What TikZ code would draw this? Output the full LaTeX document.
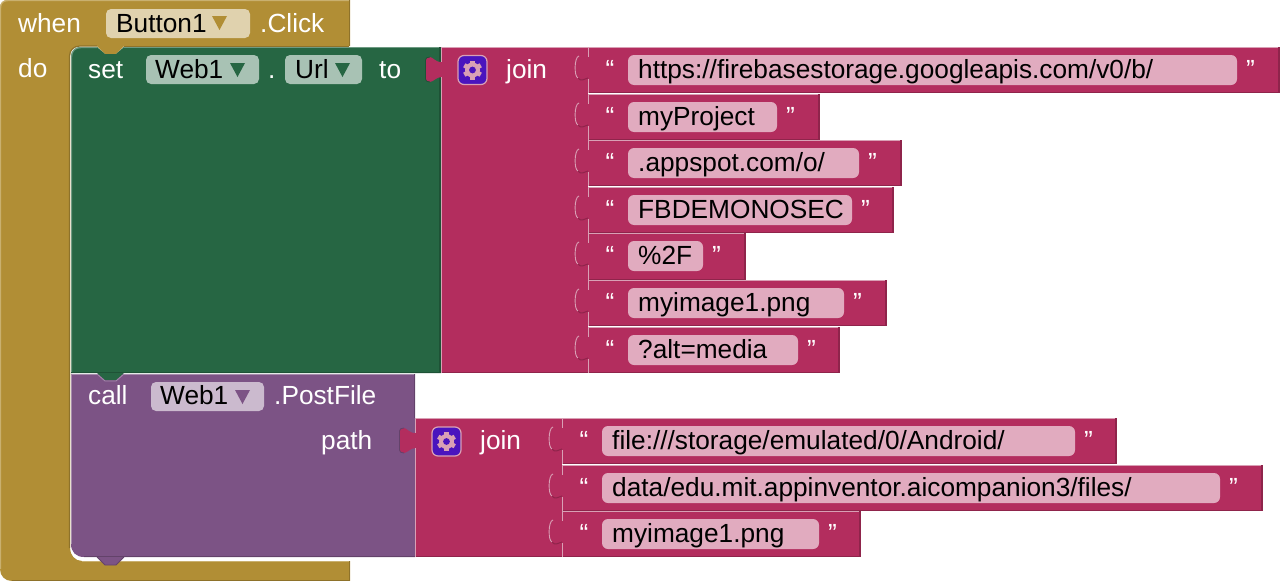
\documentclass[tikz,border=0pt]{standalone}
\usepackage{fontspec}
\setmainfont{Liberation Sans}
\definecolor{gold}{HTML}{B18E35}
\definecolor{goldL}{HTML}{C9B06F}
\definecolor{goldD}{HTML}{8E722A}
\definecolor{goldF}{HTML}{E0D2AE}
\definecolor{grn}{HTML}{266643}
\definecolor{grnL}{HTML}{6E9A82}
\definecolor{grnD}{HTML}{1E5236}
\definecolor{grnF}{HTML}{A8C2B4}
\definecolor{pur}{HTML}{7C5385}
\definecolor{purL}{HTML}{A78BAD}
\definecolor{purD}{HTML}{63426A}
\definecolor{purF}{HTML}{CBBACE}
\definecolor{pnk}{HTML}{B32D5E}
\definecolor{pnkL}{HTML}{D9A0B5}
\definecolor{pnkD}{HTML}{8F244B}
\definecolor{pnkF}{HTML}{E1ABBF}
\definecolor{gearbg}{HTML}{4A14BE}
\tikzset{
  lbl/.style={anchor=base west,inner sep=0pt,font=\fontsize{26.25}{30}\selectfont,text=white},
  fld/.style={anchor=base west,inner sep=0pt,font=\fontsize{26.25}{30}\selectfont,text=black},
  qt/.style={anchor=base,inner sep=0pt,font=\fontsize{26.25}{30}\selectfont,text=white},
  hi/.style={line width=1.2pt},
}
% name, left x, top y, bottom y, right x, field right x, text
\newcommand{\strrow}[7]{%
  \fill[pnk] (#2,#3) rectangle (#5+.5,#4);
  \draw[pnkD,hi] (#2,#4-.5) -- (#5+.5,#4-.5) (#5,#3) -- (#5,#4);
  \draw[pnkL,hi] (#2+1,#3+.5) -- (#5-1,#3+.5);
  \draw[pnkL,hi] (#2+.5,#3) -- (#2+.5,#3+10) (#2+.5,#3+32) -- (#2+.5,#4);
  \draw[pnkL,line width=.9pt] (#2-9,#3+9) .. controls (#2-14,#3+10) and (#2-14,#3+30) .. (#2-10,#3+31);
  \draw[pnkD,line width=1pt] (#2-10,#3+31) .. controls (#2-7,#3+35) and (#2-4,#3+32) .. (#2,#3+31);
  \fill[pnkF,rounded corners=6pt] (#2+40,#3+8) rectangle (#6,#3+38);
  \node[qt] (#1o) at (#2+22,#3+31) {“};
  \node[fld] (#1) at (#2+50,#3+31) {#7};
  \node[qt] (#1c) at (#6+13.5,#3+31) {”};
}
% left-facing puzzle tab: x of join edge, top y of its block
\newcommand{\jointab}[3]{%
  \fill[pnk] (#1+1,#2+15) .. controls (#1-5,#2+16) and (#1-8,#2+10) .. (#1-11,#2+10)
    .. controls (#1-14,#2+10) and (#1-15.5,#2+11) .. (#1-15.5,#2+13) -- (#1-15.5,#2+32)
    .. controls (#1-15.5,#2+34) and (#1-14,#2+35) .. (#1-11,#2+35)
    .. controls (#1-8,#2+35) and (#1-5,#2+30) .. (#1+1,#2+30) -- cycle;
  \draw[#3,line width=.8pt] (#1-11,#2+10)
    .. controls (#1-14,#2+10) and (#1-15.5,#2+11) .. (#1-15.5,#2+13) -- (#1-15.5,#2+32)
    .. controls (#1-15.5,#2+34) and (#1-14,#2+35) .. (#1-11,#2+35);
}
% gear button: left x, top y
\newcommand{\gearbtn}[2]{%
  \fill[gearbg,draw=pnkL,line width=1.2pt,rounded corners=6pt] (#1,#2) rectangle (#1+29,#2+29);
  \begin{scope}[shift={(#1+14.5,#2+14.5)}]
    \foreach \a in {0,60,...,300}
      \fill[pnkL,rotate=\a] (-2.3,-9.5) rectangle (2.3,0);
    \fill[pnkL] (0,0) circle[radius=7.5];
    \fill[gearbg] (0,0) circle[radius=3.4];
  \end{scope}
}
% dropdown triangle: left x, top y, colour
\newcommand{\ddtri}[3]{\fill[#3] (#1,#2) -- (#1+15,#2) -- (#1+7.5,#2+14) -- cycle;}
\begin{document}
\begin{tikzpicture}[x=1pt,y=-1pt]
\useasboundingbox (0,0) rectangle (1280,581);
\fill[white] (0,0) rectangle (1280,581);
% gold event block
\fill[gold] (8,0) -- (350,0) -- (350,46) -- (124,46) -- (116,54) -- (105,54) -- (97,46) -- (80,46)
  .. controls (74,46) and (70,50) .. (70,56) -- (70,548)
  .. controls (70,555) and (75,561) .. (82,561) -- (350,561) -- (350,581) -- (12,581)
  .. controls (5,581) and (0,576) .. (0,569) -- (0,8) .. controls (0,3) and (3,0) .. (8,0) -- cycle;
\draw[goldL,hi] (0.6,569) -- (0.6,8) .. controls (0.6,3) and (3,0.6) .. (8,0.6) -- (349,0.6);
\draw[goldD,hi] (349.5,0) -- (349.5,46);
\draw[goldD,hi] (349.5,561) -- (349.5,580.4) -- (12,580.4);
\draw[goldL,hi] (82,561.6) -- (349,561.6);
\draw[goldD,hi] (69.5,548) -- (69.5,56) .. controls (69.5,50) and (74,46) .. (80,46) -- (97,46);
\draw[goldD,hi] (124,46.4) -- (349,46.4);
% gold dropdown
\fill[goldF,rounded corners=5pt] (106,9) rectangle (250,38);
\ddtri{212}{16}{gold}
\node[lbl] (when) at (18,32) {when};
\node[fld] (btn) at (116,32) {Button1};
\node[lbl] (click) at (260,32) {.Click};
\node[lbl] (do) at (18,77) {do};
% green set block
\fill[grn] (81,47) -- (97,47) -- (105,54) -- (116,54) -- (124,47) -- (441,47) -- (441,373) -- (71,373) -- (71,57) .. controls (71,51) and (75,47) .. (81,47) -- cycle;
\draw[grnL,hi] (71.6,373) -- (71.6,57) .. controls (71.6,51) and (75,47.6) .. (81,47.6) -- (97,47.6);
\draw[grnL,hi] (124,47.6) -- (440,47.6);
\draw[grnD,hi] (440,47) -- (440,373);
\draw[grnD,hi] (71,372.6) -- (441,372.6);
% purple call block
\fill[pur] (71,374) -- (415,374) -- (415,557) -- (84,557) .. controls (76,557) and (71,552) .. (71,544) -- cycle;
\draw[purL,hi] (71.6,544) -- (71.6,374.6) -- (97,374.6);
\draw[purL,hi] (124,374.6) -- (414,374.6);
\draw[purD,hi] (414.5,374) -- (414.5,418);
\draw[purD,hi] (84,556.6) -- (415,556.6);
% green bottom tab over purple
\fill[grn] (97,373) -- (105,380) -- (116,380) -- (124,373) -- cycle;
\draw[purL,line width=.8pt] (97,374) -- (105,381) -- (116,381) -- (124,374);
% purple bottom tab over gold
\fill[pur] (97,557) -- (105,565) -- (116,565) -- (124,557) -- cycle;
\draw[purD,line width=.8pt] (97,557) -- (105,565) -- (116,565) -- (124,557);
% green texts
\node[lbl] (set) at (88,78) {set};
\fill[grnF,rounded corners=5pt] (146,55) rectangle (259,84);
\ddtri{230}{63}{grn}
\node[fld] (web1a) at (155,78) {Web1};
\node[lbl] (dot) at (268,78) {.};
\fill[grnF,rounded corners=5pt] (285,55) rectangle (362,84);
\ddtri{335}{63}{grn}
\node[fld] (url) at (295,78) {Url};
\node[lbl] (to) at (379,78) {to};
% purple texts
\node[lbl] (call) at (88,404) {call};
\fill[purF,rounded corners=5pt] (151,382) rectangle (264,411);
\ddtri{235}{390}{pur}
\node[fld] (web1b) at (160,404) {Web1};
\node[lbl] (postfile) at (274,404) {.PostFile};
\node[lbl] (path) at (321,449) {path};
% first join
\fill[pnk] (441,47) rectangle (588,373);
\draw[pnkL,hi] (441.6,47) -- (441.6,373) (441,47.6) -- (588,47.6);
\draw[pnkD,hi] (441,372.6) -- (588,372.6);
\jointab{441}{47}{grnD}
\draw[pnkL,hi] (441.6,47) -- (441.6,62) (441.6,77) -- (441.6,373);
\gearbtn{458}{55.5}
\node[lbl] (joina) at (506,78) {join};
\strrow{a1}{588}{47}{93}{1279}{1237}{https://firebasestorage.googleapis.com/v0/b/}
\strrow{a2}{588}{94}{140}{819}{777}{myProject}
\strrow{a3}{588}{140}{186}{901}{859}{.appspot.com/o/}
\strrow{a4}{588}{187}{233}{893}{852}{FBDEMONOSEC}
\strrow{a5}{588}{233}{280}{745}{703}{\%2F}
\strrow{a6}{588}{280}{326}{886}{844}{myimage1.png}
\strrow{a7}{588}{327}{373}{839}{798}{?alt=media}
% second join
\fill[pnk] (415,418) rectangle (562,557);
\draw[pnkL,hi] (415.6,418) -- (415.6,557) (415,418.6) -- (562,418.6);
\draw[pnkD,hi] (415,556.6) -- (562,556.6);
\jointab{415}{418}{purD}
\draw[pnkL,hi] (415.6,418) -- (415.6,433) (415.6,448) -- (415.6,557);
\gearbtn{432}{427}
\node[lbl] (joinb) at (480,449) {join};
\strrow{b1}{562}{418}{464}{1116}{1075}{file:///storage/emulated/0/Android/}
\strrow{b2}{562}{465}{511}{1262}{1220}{data/edu.mit.appinventor.aicompanion3/files/}
\strrow{b3}{562}{511}{557}{860}{819}{myimage1.png}
\end{tikzpicture}
\end{document}
